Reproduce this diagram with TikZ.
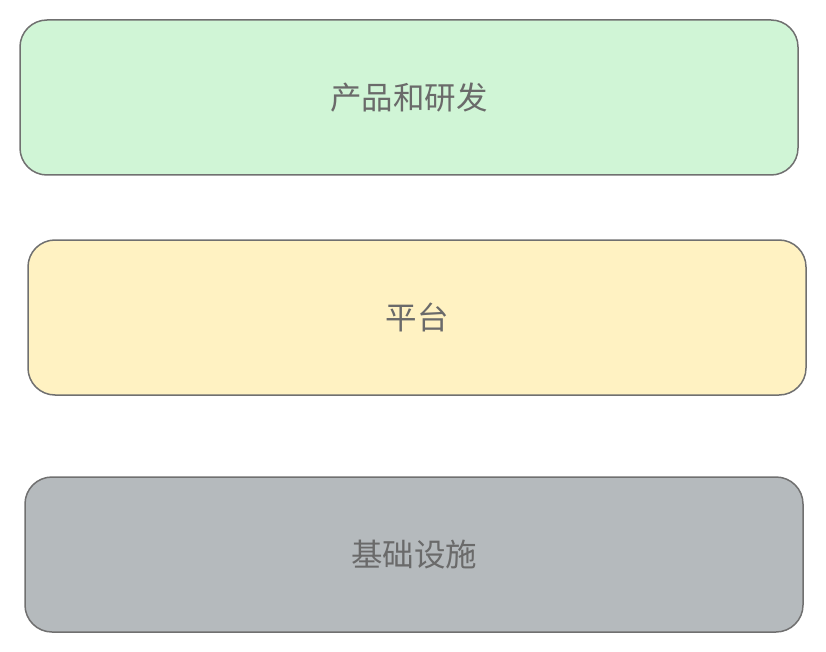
\documentclass[tikz,border=0pt]{standalone}
\usepackage{fontspec}
\newfontfamily\cjk{Noto Sans CJK SC}
\definecolor{boxgreen}{HTML}{D0F5D6}
\definecolor{boxyellow}{HTML}{FFF2C2}
\definecolor{boxgray}{HTML}{B5BABD}
\definecolor{edgegray}{HTML}{707070}
\definecolor{textgray}{HTML}{6A6A6A}
\begin{document}
\begin{tikzpicture}[x=1pt,y=-1pt,
  layerbox/.style={draw=edgegray,line width=1.5pt,rounded corners=27pt},
  layerlabel/.style={font=\cjk\fontsize{31.5}{36}\selectfont,text=textgray,inner sep=0pt}]
\useasboundingbox (0,0) rectangle (826,652);
\draw[layerbox,fill=boxgreen] (20,20) rectangle (798,175);
\node[layerlabel] (top) at (409,97.5) {产品和研发};
\draw[layerbox,fill=boxyellow] (28,240) rectangle (806,395);
\node[layerlabel] (mid) at (417,317.5) {平台};
\draw[layerbox,fill=boxgray] (25,477) rectangle (803,632);
\node[layerlabel] (bot) at (414,554.5) {基础设施};
\end{tikzpicture}
\end{document}
